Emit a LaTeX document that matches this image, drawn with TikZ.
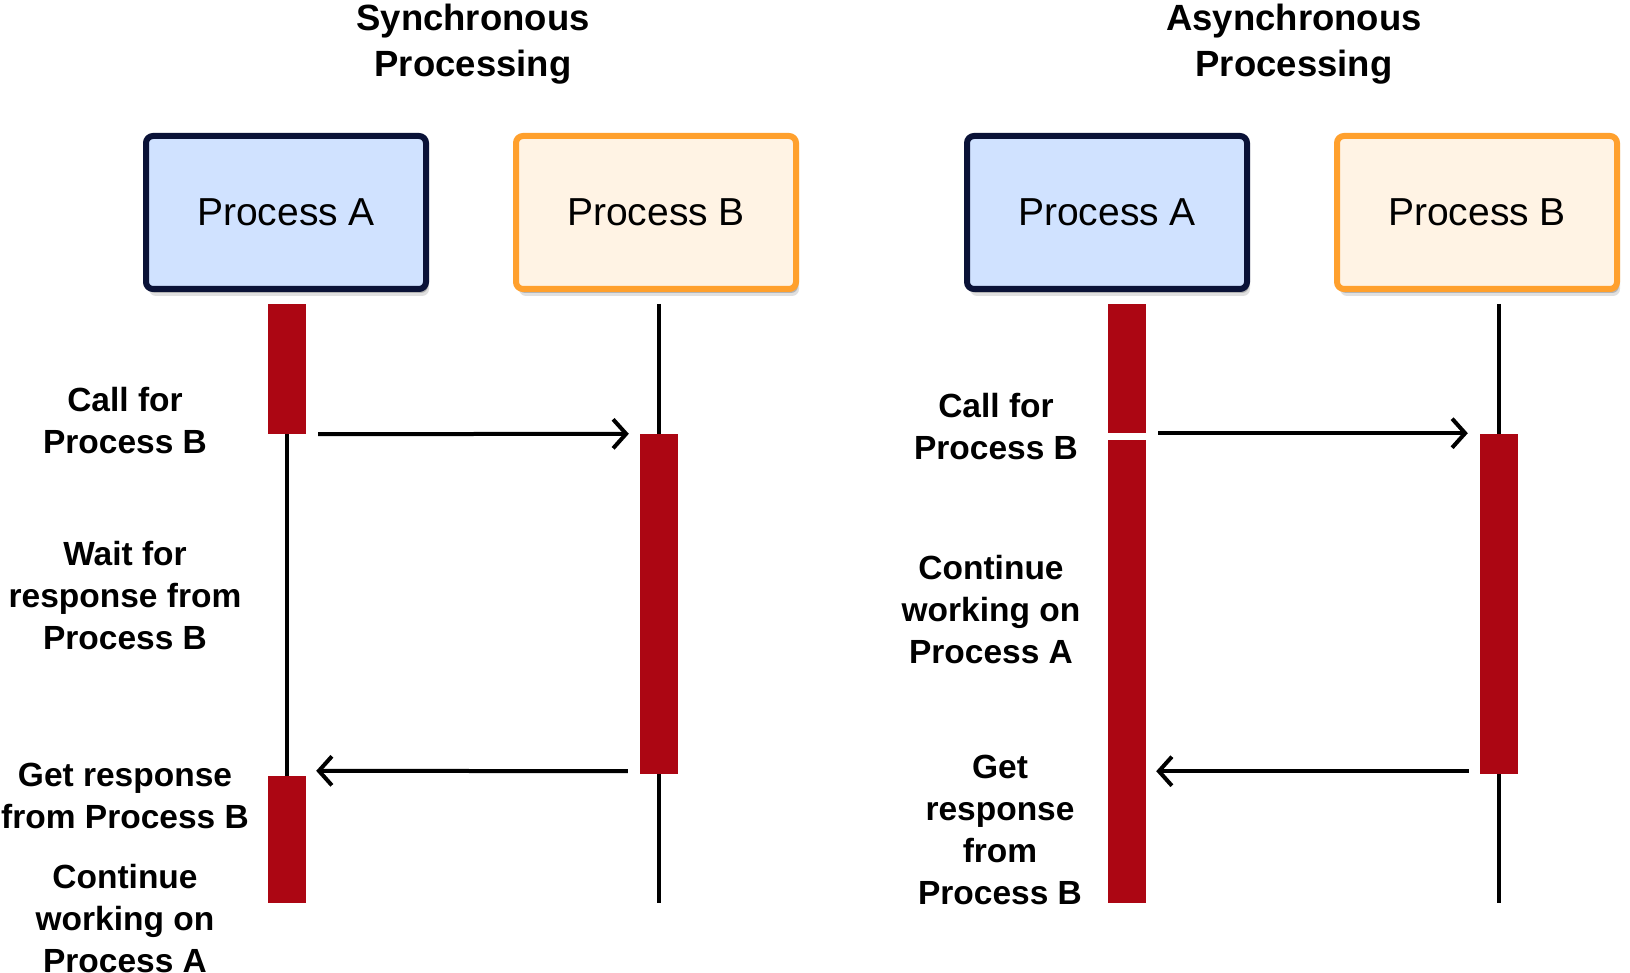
\documentclass[tikz,border=0pt]{standalone}
\usepackage{fontspec}
\setmainfont{Liberation Sans}
\usetikzlibrary{arrows.meta,shadows}
\definecolor{barred}{RGB}{172,6,19}
\definecolor{afill}{RGB}{208,226,255}
\definecolor{aline}{RGB}{10,18,55}
\definecolor{bfill}{RGB}{255,243,228}
\definecolor{bline}{RGB}{255,160,45}
\begin{document}
\begin{tikzpicture}[x=1pt,y=-1pt,
  proc/.style={rectangle, rounded corners=7pt, line width=6pt,
    minimum width=280pt, minimum height=153pt, inner sep=0pt,
    font=\fontsize{39}{46}\selectfont,
    drop shadow={shadow xshift=2pt, shadow yshift=-4pt, opacity=0.2, fill=black},
    drop shadow={shadow xshift=3pt, shadow yshift=-7pt, opacity=0.12, fill=black}},
  procA/.style={proc, draw=aline, fill=afill},
  procB/.style={proc, draw=bline, fill=bfill},
  actbar/.style={rectangle, fill=barred, inner sep=0pt, minimum width=38pt},
  life/.style={line width=4pt, black},
  msg/.style={line width=4pt, black,
    -{Straight Barb[length=13pt,width=29pt,line width=4pt]}},
  lbl/.style={font=\fontsize{33.5}{42}\selectfont\bfseries, align=center, inner sep=0pt},
  ttl/.style={font=\fontsize{36.5}{45.5}\selectfont\bfseries, align=center, inner sep=0pt}]
\useasboundingbox (0,0) rectangle (1630,973);

% titles
\node[ttl] (t1) at (473,44) {Synchronous\\Processing};
\node[ttl] (t2) at (1294,44) {Asynchronous\\Processing};

% process boxes
\node[procA] (pa1) at (286,212.5) {\raisebox{-2pt}{Process A}};
\node[procB] (pb1) at (656,212.5) {\raisebox{-2pt}{Process B}};
\node[procA] (pa2) at (1107,212.5) {\raisebox{-2pt}{Process A}};
\node[procB] (pb2) at (1477,212.5) {\raisebox{-2pt}{Process B}};

% lifelines
\coordinate (la1s) at (287,304);
\coordinate (la1e) at (287,903);
\coordinate (lb1s) at (659,304);
\coordinate (lb1e) at (659,903);
\coordinate (lb2s) at (1499,304);
\coordinate (lb2e) at (1499,903);
\draw[life] (la1s) -- (la1e);
\draw[life] (lb1s) -- (lb1e);
\draw[life] (lb2s) -- (lb2e);

% activation bars
\node[actbar, minimum height=130pt] (a1top) at (287,369) {};
\node[actbar, minimum height=127pt] (a1bot) at (287,839.5) {};
\node[actbar, minimum height=340pt] (b1bar) at (659,604) {};
\node[actbar, minimum height=129pt] (a2top) at (1127,368.5) {};
\node[actbar, minimum height=463pt] (a2bot) at (1127,671.5) {};
\node[actbar, minimum height=340pt] (b2bar) at (1499,604) {};

% messages
\draw[msg, shorten <=12pt, shorten >=11pt] (a1top.south east) -- (b1bar.north west);
\draw[msg, shorten <=12pt, shorten >=10pt] ([yshift=3pt]b1bar.south west) -- ([yshift=5pt]a1bot.north east);
\coordinate (c2) at (a2top.south east);
\draw[msg, shorten <=12pt, shorten >=12pt] (c2) -- (c2 -| b2bar.west);
\coordinate (r2) at ([yshift=3pt]b2bar.south west);
\draw[msg, shorten <=11pt, shorten >=10pt] (r2) -- (r2 -| a2bot.east);

% labels
\node[lbl] (s1) at (125,421) {Call for\\Process B};
\node[lbl] (s2) at (125,596) {Wait for\\response from\\Process B};
\node[lbl] (s3) at (125,796) {Get response\\from Process B};
\node[lbl] (s4) at (125,919) {Continue\\working on\\Process A};
\node[lbl] (y1) at (996,427) {Call for\\Process B};
\node[lbl] (y2) at (991,610) {Continue\\working on\\Process A};
\node[lbl] (y3) at (1000,830) {Get\\response\\from\\Process B};
\end{tikzpicture}
\end{document}
